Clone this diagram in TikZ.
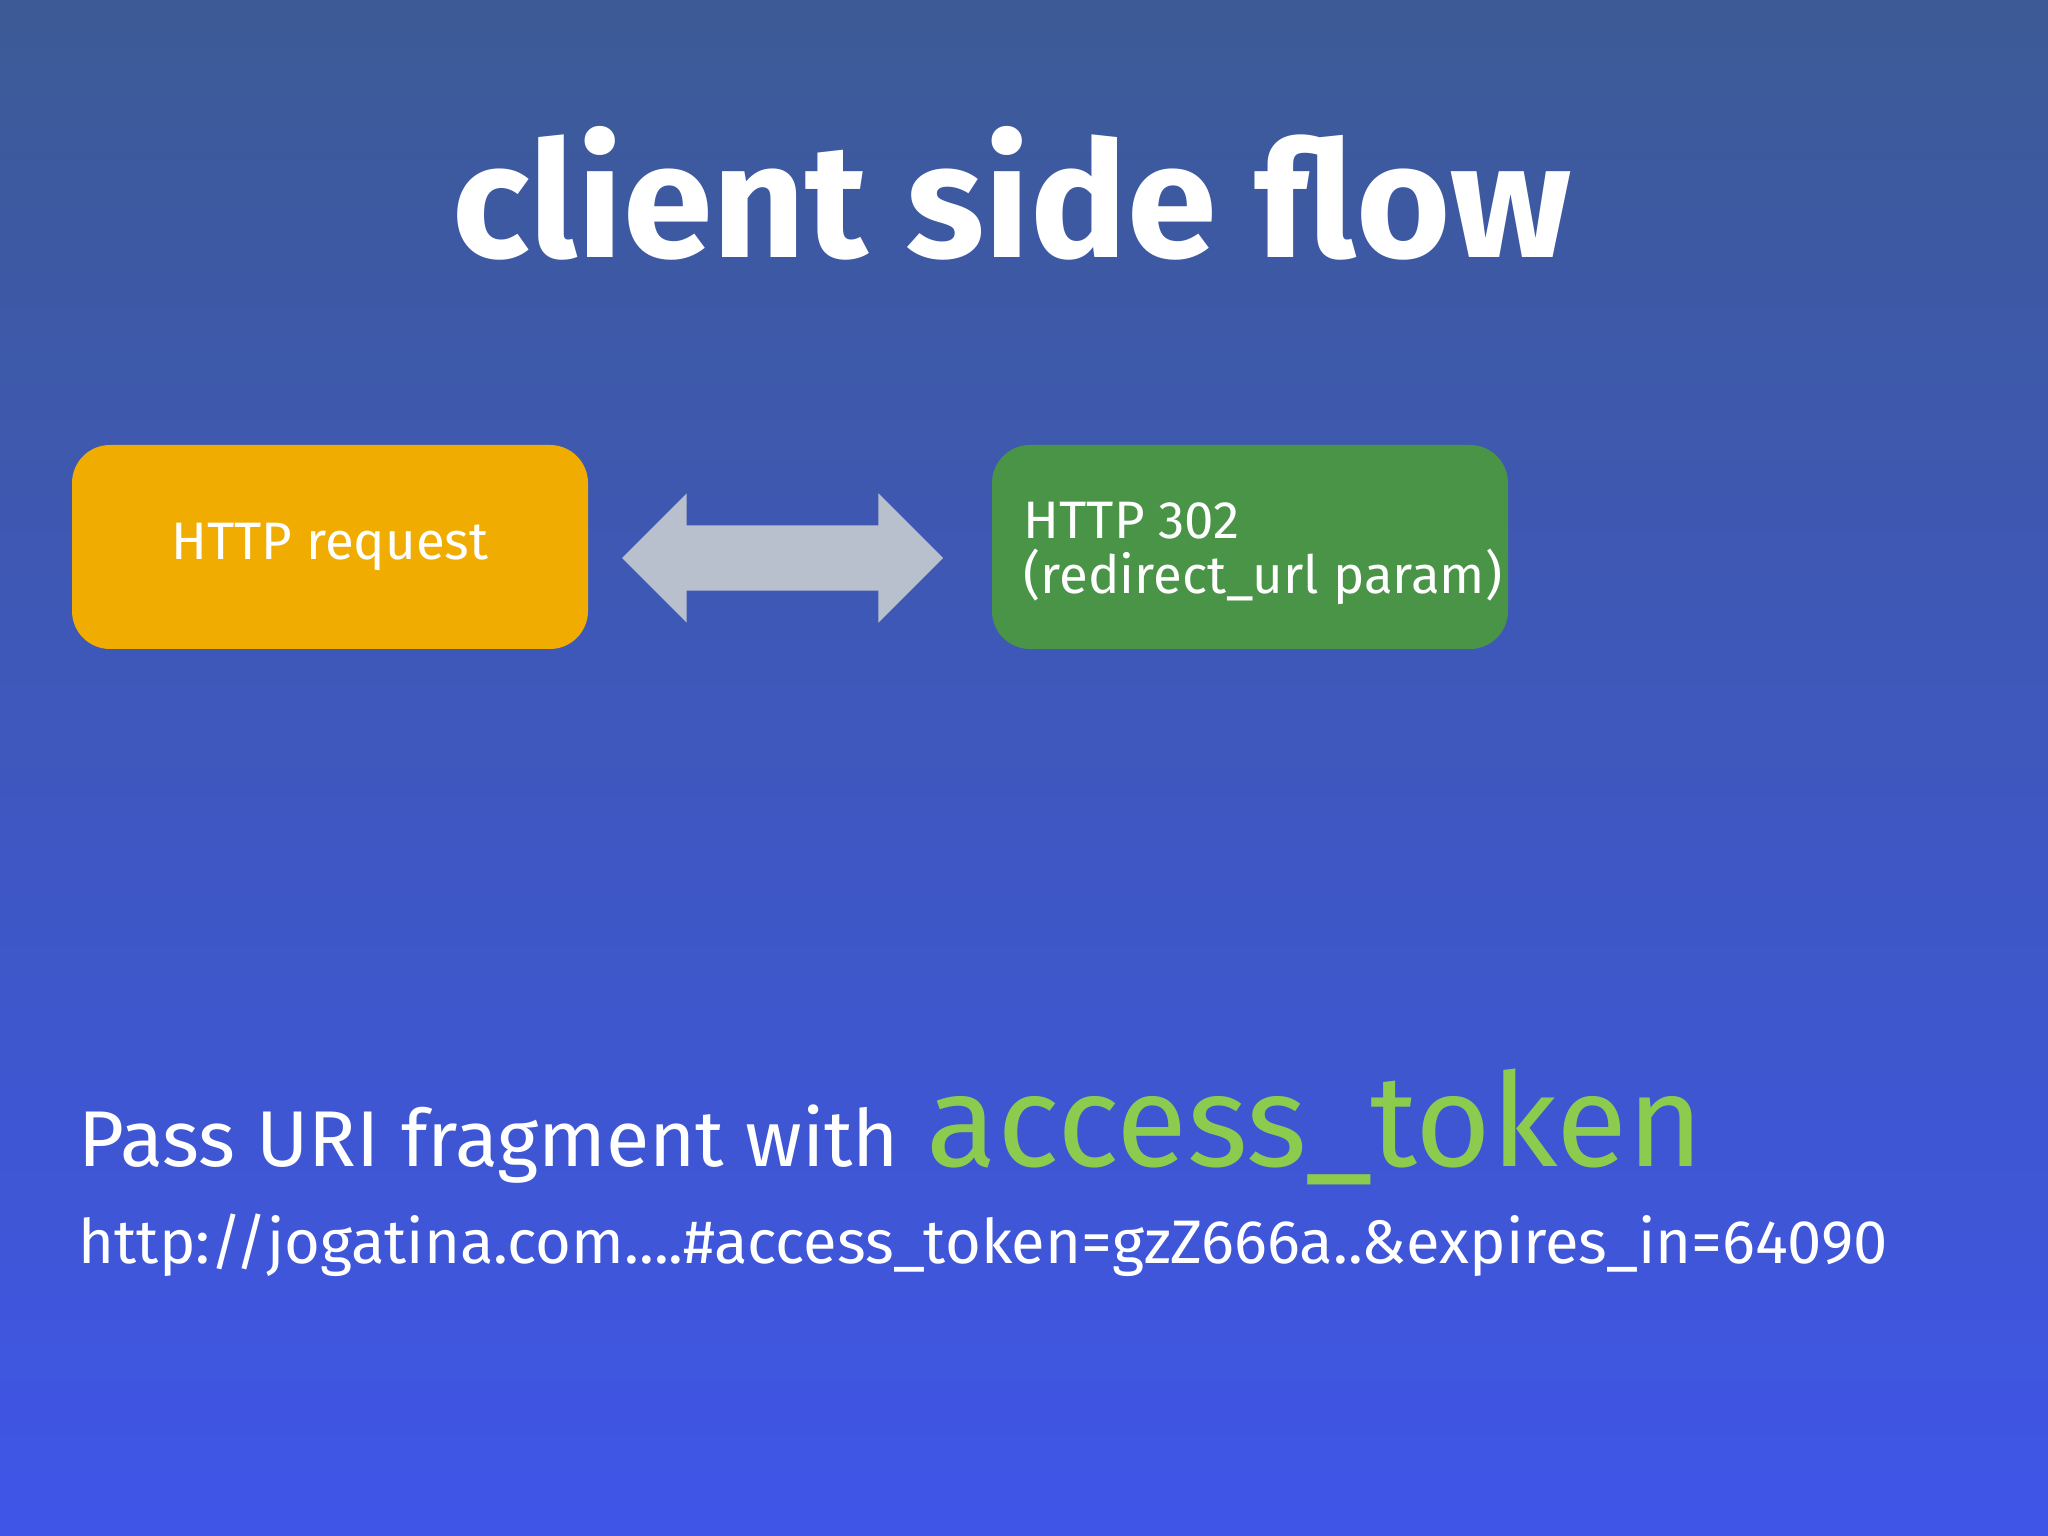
\documentclass[tikz,border=0pt]{standalone}
\usepackage{fontspec}
\setmainfont{Fira Sans}
\usetikzlibrary{shapes.arrows}
\definecolor{bgtop}{HTML}{3D5A96}
\definecolor{bgbot}{HTML}{3F55E8}
\definecolor{reqcol}{HTML}{F0AC00}
\definecolor{rescol}{HTML}{4A9448}
\definecolor{arrcol}{HTML}{B8C0CE}
\definecolor{tokcol}{HTML}{8DCB4F}
\tikzset{
  flow box/.style={rounded corners=0.38cm,minimum width=5.16cm,minimum height=2.04cm,text=white,font=\fontsize{15pt}{17pt}\selectfont},
  slide text/.style={text=white,anchor=base west,inner sep=0pt}
}
\begin{document}
\begin{tikzpicture}
  \useasboundingbox (0,0) rectangle (20.48,-15.36);
  \shade[top color=bgtop,bottom color=bgbot] (0,0) rectangle (20.48,-15.36);
  % title
  \node[text=white,font=\fontsize{46pt}{50pt}\selectfont\bfseries,anchor=base] (title) at (10.12,-2.58) {client side flow};
  % boxes
  \node[flow box,fill=reqcol] (req) at (3.30,-5.47) {HTTP request};
  \node[flow box,fill=rescol] (res) at (12.50,-5.47) {};
  \node[slide text,font=\fontsize{15pt}{17pt}\selectfont] (reslabA) at (10.23,-5.39) {HTTP 302};
  \node[slide text,font=\fontsize{15pt}{17pt}\selectfont] (reslabB) at (10.23,-5.94) {(redirect\_url param)};
  % double arrow
  \node[double arrow,fill=arrcol,inner xsep=0pt,inner ysep=0.32cm,double arrow head extend=0.32cm,
        minimum height=3.21cm] (flow) at (7.825,-5.58) {};
  % bottom text
  \node[slide text,font=\fontsize{22.5pt}{25pt}\selectfont] (pass) at (0.78,-11.66) {Pass URI fragment with};
  \node[slide text,text=tokcol,font=\fontsize{37pt}{40pt}\selectfont] (tok) at ([xshift=0.26cm]pass.base east) {access\_token};
  \node[slide text,font=\fontsize{17.5pt}{20pt}\selectfont] (url) at (0.78,-12.63) {http://jogatina.com....\#access\_token=gzZ666a..\&expires\_in=64090};
\end{tikzpicture}
\end{document}
